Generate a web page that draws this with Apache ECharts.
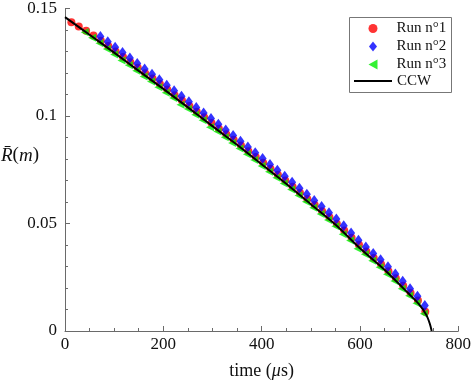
<!DOCTYPE html>
<html>
<head>
<meta charset="utf-8">
<script src="https://cdn.jsdelivr.net/npm/echarts@6/dist/echarts.min.js"></script>
<style>html,body{margin:0;padding:0;background:#fff;}#c{width:474px;height:385px;}</style>
</head>
<body>
<div id="c"></div>
<script>
// CCW model curve
var ccwT = [0, 50, 100, 150, 200, 250, 300, 350, 400, 450, 500, 550, 600, 650, 700, 720, 735, 742, 746];
var ccwR = [0.1460, 0.1378, 0.1295, 0.1210, 0.1126, 0.1040, 0.0953, 0.0866, 0.0776, 0.0685, 0.0590, 0.0495, 0.0385, 0.0285, 0.0172, 0.0125, 0.0075, 0.0035, 0.0];

// Run n°1 (red circles)
var run1T = [13, 28, 43, 58, 73, 88, 103, 118, 133, 148, 163, 178, 193, 208, 223, 238, 253, 268, 283, 298, 313, 328, 343, 358, 373, 388, 403, 418, 433, 448, 463, 478, 493, 508, 523, 538, 553, 568, 583, 598, 613, 628, 643, 658, 673, 688, 703, 718, 733];
var run1R = [0.1436, 0.1416, 0.1396, 0.1374, 0.1350, 0.1326, 0.1300, 0.1275, 0.1250, 0.1225, 0.1199, 0.1174, 0.1149, 0.1123, 0.1097, 0.1072, 0.1046, 0.1020, 0.0994, 0.0967, 0.0941, 0.0915, 0.0889, 0.0863, 0.0836, 0.0809, 0.0782, 0.0755, 0.0727, 0.0700, 0.0671, 0.0643, 0.0614, 0.0586, 0.0557, 0.0529, 0.0499, 0.0467, 0.0434, 0.0401, 0.0370, 0.0340, 0.0310, 0.0278, 0.0245, 0.0211, 0.0177, 0.0142, 0.0090];

// Run n°2 (blue diamonds)
var run2T = [72, 87, 102, 117, 132, 147, 162, 177, 192, 207, 222, 237, 252, 267, 282, 297, 312, 327, 342, 357, 372, 387, 402, 417, 432, 447, 462, 477, 492, 507, 522, 537, 552, 567, 582, 597, 612, 627, 642, 657, 672, 687, 702, 717, 732];
var run2R = [0.1370, 0.1345, 0.1320, 0.1295, 0.1270, 0.1244, 0.1219, 0.1194, 0.1169, 0.1143, 0.1118, 0.1092, 0.1066, 0.1040, 0.1014, 0.0988, 0.0962, 0.0935, 0.0909, 0.0883, 0.0856, 0.0829, 0.0802, 0.0775, 0.0748, 0.0720, 0.0692, 0.0664, 0.0636, 0.0607, 0.0579, 0.0550, 0.0521, 0.0489, 0.0456, 0.0422, 0.0391, 0.0361, 0.0331, 0.0299, 0.0265, 0.0231, 0.0197, 0.0162, 0.0119];

// Run n°3 (green left triangles)
var run3T = [40, 55, 70, 85, 100, 115, 130, 145, 160, 175, 190, 205, 220, 235, 250, 265, 280, 295, 310, 325, 340, 355, 370, 385, 400, 415, 430, 445, 460, 475, 490, 505, 520, 535, 550, 565, 580, 595, 610, 625, 640, 655, 670, 685, 700, 715, 730];
var run3R = [0.1390, 0.1364, 0.1338, 0.1312, 0.1286, 0.1258, 0.1236, 0.1211, 0.1184, 0.1160, 0.1134, 0.1108, 0.1084, 0.1052, 0.1032, 0.1006, 0.0980, 0.0948, 0.0928, 0.0901, 0.0875, 0.0849, 0.0822, 0.0795, 0.0768, 0.0741, 0.0713, 0.0686, 0.0658, 0.0630, 0.0601, 0.0573, 0.0544, 0.0516, 0.0487, 0.0450, 0.0421, 0.0382, 0.0357, 0.0327, 0.0297, 0.0264, 0.0232, 0.0197, 0.0164, 0.0129, 0.0080];

var xTicks = {min: 0, max: 800, interval: 200};
var yTicks = {min: 0, max: 0.15, interval: 0.05};
var runNames = ['Run n°1', 'Run n°2', 'Run n°3'];
var modelName = 'CCW';

function pairs(t, r) { return t.map(function (v, i) { return [v, r[i]]; }); }

var FONT = 'Liberation Serif';
var axisCol = '#6a6a6a';
var txtCol = '#111';
var chart = echarts.init(document.getElementById('c'), null, {renderer: 'canvas'});
chart.setOption({
  animation: false,
  backgroundColor: '#ffffff',
  grid: {left: 65, right: 11, top: 6, bottom: 51},
  xAxis: {
    type: 'value', min: xTicks.min, max: xTicks.max, interval: xTicks.interval,
    name: 'time ({i|μ}s)', nameLocation: 'middle', nameGap: 31,
    nameTextStyle: {fontFamily: FONT, fontSize: 18, color: txtCol,
      rich: {i: {fontFamily: FONT, fontSize: 18, fontStyle: 'italic', color: txtCol}}},
    axisLine: {lineStyle: {color: axisCol, width: 1}},
    axisTick: {inside: true, length: 5, lineStyle: {color: axisCol}},
    minorTick: {show: true, splitNumber: 4, length: 3, lineStyle: {color: axisCol}},
    splitLine: {show: false},
    axisLabel: {fontFamily: FONT, fontSize: 17, color: txtCol, margin: 5}
  },
  yAxis: {
    type: 'value', min: yTicks.min, max: yTicks.max, interval: yTicks.interval,
    axisLine: {show: true, lineStyle: {color: axisCol, width: 1}},
    axisTick: {show: true, inside: true, length: 5, lineStyle: {color: axisCol}},
    minorTick: {show: true, splitNumber: 5, length: 3, lineStyle: {color: axisCol}},
    splitLine: {show: false},
    axisLabel: {fontFamily: FONT, fontSize: 17, color: txtCol, margin: 8}
  },
  graphic: [{
    type: 'text', left: 1, top: 146,
    style: {
      text: '{i|R\u0304}({i|m})',
      font: '19px "Liberation Serif"', fill: txtCol,
      rich: {i: {fontFamily: FONT, fontSize: 19, fontStyle: 'italic', fill: txtCol, color: txtCol}}
    }
  }, {
    type: 'rect', z: 1, left: 349, top: 17,
    shape: {width: 102, height: 75},
    style: {fill: '#fff', stroke: '#777', lineWidth: 1}
  }],
  legend: [{
    orient: 'vertical', left: 368.5, top: 21, z: 10,
    padding: 0, itemGap: 3, itemWidth: 9, itemHeight: 10,
    textStyle: {fontFamily: FONT, fontSize: 15, color: txtCol, lineHeight: 15, padding: [0, 0, 0, 14]},
    data: [
      {name: runNames[0], icon: 'circle', itemStyle: {color: '#ff0000'}},
      {name: runNames[1], icon: 'path://M4,0 L8,5 L4,10 L0,5 Z', itemStyle: {color: '#0000ff'}},
      {name: runNames[2], icon: 'path://M0,5 L9,0 L9,10 Z', itemStyle: {color: '#00ee00'}}
    ]
  }, {
    orient: 'vertical', left: 354, top: 73.5, z: 10,
    padding: 0, itemWidth: 38, itemHeight: 2,
    textStyle: {fontFamily: FONT, fontSize: 15, color: txtCol, lineHeight: 15},
    data: [{name: modelName, icon: 'rect', itemStyle: {color: '#000'}}]
  }],
  series: [
    {name: runNames[0], type: 'scatter', data: pairs(run1T, run1R), symbol: 'circle', symbolSize: 8,
      itemStyle: {color: '#ff0000'}, z: 2},
    {name: runNames[1], type: 'scatter', data: pairs(run2T, run2R), symbol: 'diamond', symbolSize: [8, 11],
      itemStyle: {color: '#0000ff'}, z: 3},
    {name: runNames[2], type: 'scatter', data: pairs(run3T, run3R), symbol: 'triangle', symbolRotate: 90, symbolSize: 8,
      itemStyle: {color: '#00ee00'}, z: 4},
    {name: modelName, type: 'line', data: pairs(ccwT, ccwR), symbol: 'none', smooth: 0.3,
      lineStyle: {color: '#000', width: 2}, itemStyle: {color: '#000'}, z: 5}
  ]
});
</script>
</body>
</html>
